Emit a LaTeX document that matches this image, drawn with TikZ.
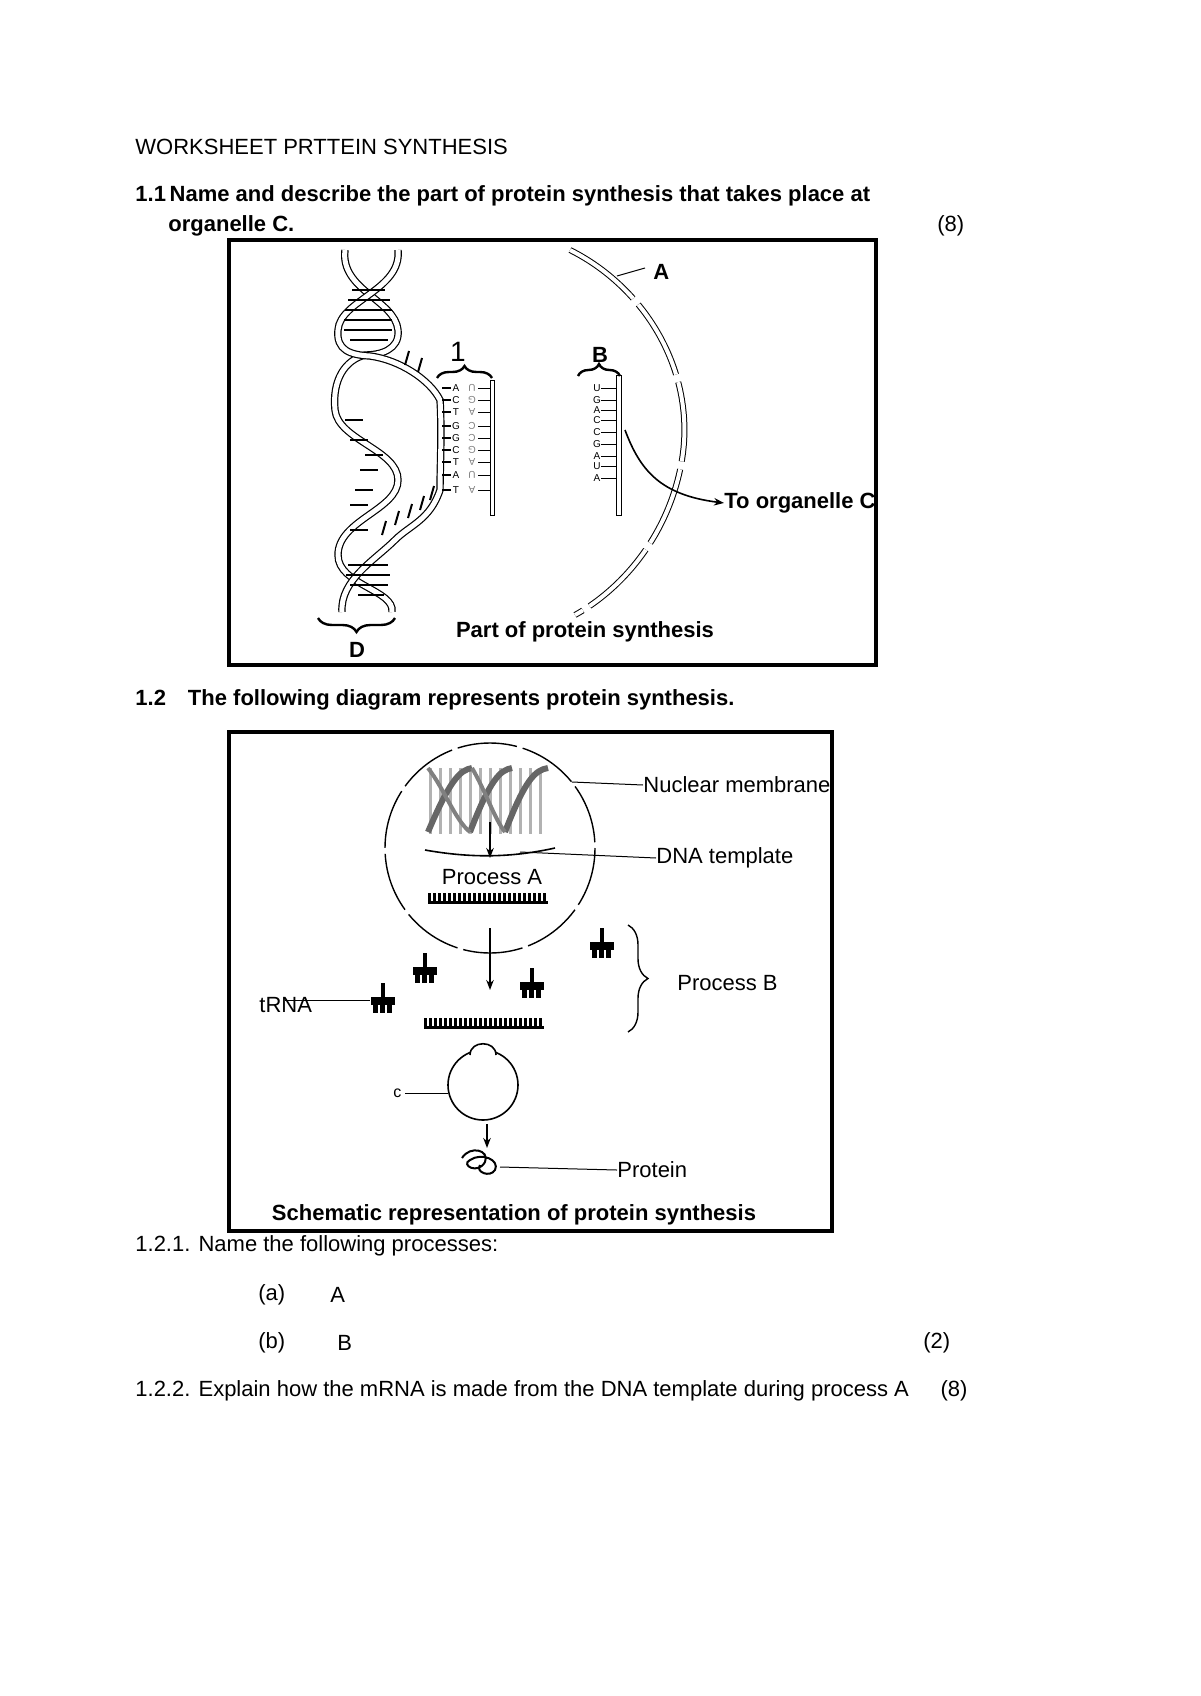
\documentclass[tikz,border=0pt]{standalone}
\usepackage{fontspec}
\setmainfont{Liberation Sans}
\usetikzlibrary{decorations.pathreplacing,arrows.meta,calc}
\begin{document}
\begin{tikzpicture}[x=0.5pt,y=-0.5pt,
 txt/.style={anchor=west,inner sep=0,font=\fontsize{11}{13}\selectfont},
 btxt/.style={txt,font=\fontsize{11}{13}\selectfont\bfseries},
 frame/.style={line width=2pt},
 strand/.style={double=white,double distance=2.5pt,line width=0.6pt},
 membr/.style={double=white,double distance=2pt,line width=0.5pt,dash pattern=on 40pt off 4pt},
 lbl/.style={line width=0.5pt},
 arr/.style={-{Stealth[length=5pt]},line width=1.2pt},
 base/.style={inner sep=0,font=\fontsize{5}{5}\selectfont},
 trna/.pic={\fill (-2,-22) rectangle (2,-8); \fill (-12,-8) rectangle (12,0);
   \foreach \i in {-10,-3,4}{\fill (\i,0) rectangle (\i+5,8);}},
 comb/.pic={\fill (0,4) rectangle (120,7); \foreach \i in {0,5,...,115}{\fill (\i,-4) rectangle (\i+3,4);}}
]
\useasboundingbox (0,0) rectangle (1200,1696);
\node[txt] (t0) at (135,147) {WORKSHEET PRTTEIN SYNTHESIS};
\node[btxt] (q1) at (135,196) {1.1\,Name and describe the part of protein synthesis that takes place at};
\node[btxt] (q1b) at (168,226) {organelle C.};
\node[txt] (m1) at (937,226) {(8)};
% box 1
\draw[frame] (229,240) rectangle (876,665);
% DNA helix
\draw[strand] (345,250) .. controls (340,290) and (395,300) .. (398,330) .. controls (400,350) and (380,355) .. (365,355) .. controls (345,360) and (332,380) .. (335,410) .. controls (338,440) and (398,450) .. (398,480) .. controls (398,510) and (338,520) .. (338,555) .. controls (338,585) and (395,590) .. (392,612);
\draw[strand] (398,250) .. controls (402,290) and (340,300) .. (338,330) .. controls (336,350) and (350,355) .. (370,356) .. controls (400,360) and (430,380) .. (440,400) .. controls (442,430) and (440,470) .. (440,490) .. controls (430,520) and (410,525) .. (395,540) .. controls (375,560) and (340,580) .. (342,612);
\foreach \y/\a/\b in {290/352/385,300/348/390,310/345/392,320/344/392,330/344/392,340/350/388}
  \draw[line width=1.2pt] (\a,\y) -- (\b,\y);
\foreach \y/\a/\b in {565/348/388,575/346/390,585/350/388,595/358/384}
  \draw[line width=1.2pt] (\a,\y) -- (\b,\y);
\foreach \y/\x in {420/345,440/350,455/365,470/360,490/355,505/350,530/350}\draw[line width=1pt] (\x,\y) -- (\x+18,\y);
\foreach \x/\y in {405/365,418/372,395/525,408/518,420/510,430/500,382/535}\draw[line width=1pt] (\x,\y) -- ++(4,-14);
% template bases
\foreach \y/\b in {388/A,400/C,412/T,426/G,438/G,450/C,462/T,475/A,490/T}{
 \draw[line width=1pt] (442,\y) -- (451,\y); \node[base] at (456,\y) {\b};}
\foreach \y/\b in {388/U,400/G,412/A,426/C,438/C,450/G,462/A,475/U,490/A}{
 \node[base,text=gray,rotate=180] at (472,\y) {\b}; \draw[lbl] (478,\y) -- (490,\y);}
\draw[line width=0.5pt] (490,380) rectangle (494,515);
\draw[line width=1.2pt,decorate,decoration={brace,amplitude=6pt}] (437,378) -- (492,378);
\node[inner sep=0,font=\fontsize{14}{14}\selectfont] (one) at (458,352) {1};
% B strand
\foreach \y/\b in {388/U,400/G,410/A,420/C,432/C,444/G,456/A,466/U,478/A}{
 \node[base] at (597,\y) {\b}; \draw[lbl] (601,\y) -- (616,\y);}
\draw[line width=0.5pt] (616,375) rectangle (621,515);
\draw[line width=1.2pt,decorate,decoration={brace,amplitude=6pt}] (578,376) -- (620,376);
\node[btxt,anchor=center] (B) at (600,355) {B};
% nuclear envelope
\draw[membr] (570,250) .. controls (650,290) and (700,380) .. (680,470) .. controls (665,540) and (620,590) .. (575,615);
\coordinate (aA) at (617,276);
\draw[lbl] (aA) -- (645,268);
\node[btxt] (A) at (653,272) {A};
\coordinate (st) at (625,430);
\node[btxt] (toC) at (724,503) {To organelle C};
\draw[-{Stealth[length=5pt]},line width=0.8pt] (st) .. controls (640,470) and (660,495) .. (toC.west);
% D brace
\draw[line width=1.2pt,decorate,decoration={brace,amplitude=7pt,mirror}] (318,618) -- (395,618);
\node[btxt,anchor=center] (D) at (357,650) {D};
\node[btxt,anchor=center] (cap1) at (585,632) {Part of protein synthesis};
\fill[white] (879,480) rectangle (960,520);
% 1.2
\node[btxt] (q2) at (135,700) {1.2\quad The following diagram represents protein synthesis.};
\draw[frame] (229,732) rectangle (832,1231);
\draw[line width=0.7pt,dash pattern=on 30pt off 3pt] (490,848) circle (105);
% DNA picture
\foreach \x in {430,440,...,545}\draw[gray!60,line width=1.5pt] (\x,768) -- (\x,834);
\draw[gray!80!black,line width=3pt] (428,832) .. controls (450,780) and (460,770) .. (472,768) (470,832) .. controls (490,780) and (500,770) .. (512,768) (505,832) .. controls (525,780) and (535,770) .. (548,768);
\draw[gray,line width=2pt] (428,768) .. controls (445,790) and (455,820) .. (470,832) (472,768) .. controls (485,790) and (495,820) .. (505,832);
\draw[arr] (490,822) -- (490,858);
\draw[line width=0.8pt] (425,850) .. controls (470,858) and (510,858) .. (555,848);
\node[txt,anchor=center] (pA) at (492,877) {Process A};
\pic at (428,897) {comb};
\draw[arr] (490,928) -- (490,990);
\pic at (424,1022) {comb};
\pic (t1) at (602,950) {trna};
\pic (t2) at (425,975) {trna};
\pic (t3) at (532,990) {trna};
\pic (t4) at (383,1005) {trna};
\node[txt] (tr) at (259,1005) {tRNA};
\coordinate (t4a) at (370,1000);
\draw[lbl] (285,1000) -- (t4a);
\draw[line width=0.7pt,decorate,decoration={brace,amplitude=10pt}] (628,925) -- (628,1032);
\node[txt] (pB) at (677,983) {Process B};
\coordinate (nm) at (572,782);
\node[txt] (nmt) at (643,785) {Nuclear membrane};
\draw[lbl] (nm) -- (nmt.west);
\coordinate (dt) at (520,852);
\node[txt] (dtt) at (656,858) {DNA template};
\draw[lbl] (dt) -- (dtt.west);
\fill[white] (835,770) rectangle (900,800);
% ribosome
\draw[line width=0.8pt] (483,1085) circle (35);
\draw[line width=0.8pt,fill=white] (470,1055) .. controls (470,1040) and (496,1040) .. (496,1055);
\node[txt,font=\fontsize{8}{9}\selectfont] (c) at (393,1093) {c};
\draw[lbl] (405,1093) -- (448,1093);
\draw[arr] (487,1124) -- (487,1148);
\draw[line width=1pt] (462,1158) .. controls (470,1145) and (490,1150) .. (485,1162) .. controls (478,1175) and (460,1165) .. (470,1160) .. controls (482,1152) and (500,1160) .. (495,1170) .. controls (490,1178) and (475,1172) .. (480,1165);
\coordinate (pr) at (500,1167);
\node[txt] (prt) at (617,1170) {Protein};
\draw[lbl] (pr) -- (prt.west);
\node[btxt,anchor=center] (cap2) at (514,1215) {Schematic representation of protein synthesis};
\node[txt] (q3) at (135,1246) {1.2.1. Name the following processes:};
\node[txt] (qa) at (258,1295) {(a)};
\node[txt] (qaa) at (330,1295) {A};
\node[txt] (qb) at (258,1343) {(b)};
\node[txt] (qbb) at (337,1343) {B};
\node[txt] (m2) at (923,1343) {(2)};
\node[txt] (q4) at (135,1391) {1.2.2. Explain how the mRNA is made from the DNA template during process A\quad\, (8)};
\end{tikzpicture}
\end{document}
